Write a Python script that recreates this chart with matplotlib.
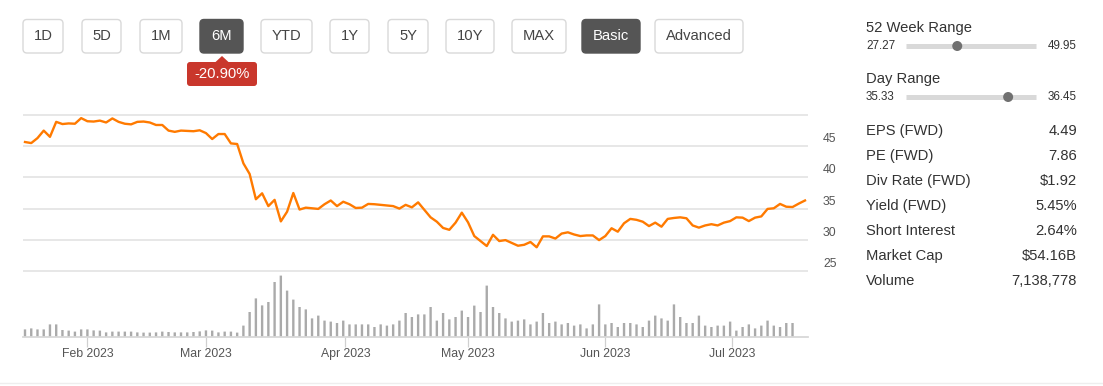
import numpy as np
import pandas as pd
import matplotlib
matplotlib.use("agg")
import matplotlib.pyplot as plt
from matplotlib.patches import FancyBboxPatch, Polygon, Circle
import matplotlib.transforms as mtrans

plt.rcParams["font.family"] = ["Liberation Sans", "DejaVu Sans"]

# trading sessions of the 6M window (ordinal x axis)
holidays = ["2023-02-20", "2023-04-07", "2023-05-29", "2023-06-19", "2023-07-04"]
dates = pd.bdate_range("2023-01-18", "2023-07-19")
dates = dates[~dates.isin(pd.to_datetime(holidays))]

price = [
    45.67, 45.5, 46.3, 47.5, 46.5, 48.9, 48.55, 48.65, 48.6, 49.5,
    49.0, 48.95, 49.1, 48.8, 49.45, 48.9, 48.6, 48.5, 48.9, 48.95,
    48.8, 48.4, 48.4, 47.5, 47.3, 47.5, 47.45, 47.4, 47.55, 47.1,
    46.15, 46.95, 46.95, 45.45, 45.35, 42.25, 40.55, 36.5, 37.45, 35.4,
    36.4, 32.95, 34.5, 37.5, 34.85, 35.15, 35.05, 34.95, 35.7, 36.3,
    35.4, 36.1, 35.7, 35.1, 35.15, 35.75, 35.7, 35.6, 35.5, 35.4,
    35.0, 35.6, 35.2, 36.0, 34.8, 33.6, 32.9, 31.9, 31.6, 32.75,
    34.35, 32.8, 30.6, 29.8, 29.0, 30.8, 29.8, 29.95, 29.5, 29.05,
    29.2, 29.65, 28.8, 30.55, 30.55, 30.2, 31.0, 31.2, 30.85, 30.6,
    30.7, 30.7, 29.95, 30.6, 31.85, 31.3, 32.65, 33.35, 33.2, 32.9,
    32.2, 32.75, 32.1, 33.35, 33.5, 33.6, 33.45, 32.3, 31.95, 32.3,
    32.5, 32.3, 32.75, 33.0, 33.6, 33.55, 33.0, 33.55, 33.75, 34.95,
    35.05, 35.75, 35.3, 35.25, 35.8, 36.3,
]

# volume in millions of shares
volume = [
    3.8, 4.3, 3.8, 3.8, 6.3, 6.3, 3.5, 3.2, 2.7, 3.8,
    3.8, 3.3, 3.2, 2.3, 2.7, 2.7, 2.7, 2.7, 2.3, 2.2,
    2.2, 2.3, 2.7, 2.5, 2.3, 2.3, 2.3, 2.5, 2.8, 3.3,
    3.2, 2.3, 2.7, 2.7, 2.2, 5.7, 12.5, 19.3, 15.8, 17.5,
    27.5, 30.7, 23.2, 18.7, 15.0, 13.8, 9.3, 10.7, 8.2, 7.7,
    7.0, 8.2, 6.3, 6.3, 6.3, 6.3, 5.0, 6.3, 5.7, 6.3,
    8.2, 12.0, 10.0, 11.3, 11.3, 15.0, 8.2, 12.0, 8.8, 10.0,
    13.2, 10.0, 15.7, 12.5, 25.7, 15.0, 12.0, 9.3, 7.7, 8.2,
    8.8, 6.3, 7.7, 12.0, 7.0, 7.7, 6.3, 7.0, 5.7, 6.3,
    4.3, 6.3, 16.3, 6.3, 7.0, 5.0, 7.0, 7.0, 6.3, 5.0,
    8.2, 10.7, 9.3, 8.2, 16.3, 10.0, 7.0, 7.0, 10.7, 5.7,
    5.0, 5.7, 5.7, 7.7, 3.2, 5.0, 6.3, 4.3, 5.7, 8.2,
    5.7, 5.0, 7.0, 7.0,
]

price_ticks = [25, 30, 35, 40, 45, 50]
periods = ["1D", "5D", "1M", "6M", "YTD", "1Y", "5Y", "10Y", "MAX"]
views = ["Basic", "Advanced"]
selected = ["6M", "Basic"]
change_label = "-20.90%"

week52 = (27.27, 49.95)
day_range = (35.33, 36.45)
last_price = 36.21
stat_names = ["EPS (FWD)", "PE (FWD)", "Div Rate (FWD)", "Yield (FWD)",
              "Short Interest", "Market Cap", "Volume"]
stat_values = ["4.49", "7.86", "$1.92", "5.45%", "2.64%", "$54.16B", "7,138,778"]

W, H = 1103, 386
fig = plt.figure(figsize=(W / 100, H / 100), dpi=100)
fig.patch.set_facecolor("white")


def px_axes(x0, y0, x1, y1):
    return fig.add_axes([x0 / W, 1 - y1 / H, (x1 - x0) / W, (y1 - y0) / H])


idx = np.arange(len(dates))
step = 6.24  # px per session
xlim = (-2 / step, len(price) - 1 + 3 / step)

# price panel
ax = px_axes(23, 113, 808, 273)
ax.plot(idx[:len(price)], price, color="#ff7a00", lw=1.7, solid_joinstyle="round", zorder=3)
ax.set_xlim(*xlim)
ax.set_ylim(25 - 2 / step, 50 + 2 / step)
ax.set_yticks(price_ticks)
ax.set_yticklabels([])
ax.grid(axis="y", color="#e0e0e0", lw=1.1)
ax.tick_params(length=0, labelbottom=False, labelleft=False)
ax.set_xticks([])
for s in ax.spines.values():
    s.set_visible(False)
lab_tr = mtrans.offset_copy(ax.get_yaxis_transform(), fig=fig, x=15, y=7, units="dots")
for v in price_ticks[:-1]:
    ax.text(1.0, v, str(v), transform=lab_tr, ha="left", va="center",
            fontsize=8.8, color="#555555")

# volume panel
axv = px_axes(23, 271, 808, 337)
axv.bar(idx[:len(volume)], volume, width=0.38, color="#aaaaaa", lw=0, snap=False, zorder=2)
axv.set_xlim(*xlim)
axv.set_ylim(0, 33)
axv.set_yticks([])
for k in ["top", "left", "right"]:
    axv.spines[k].set_visible(False)
axv.spines["bottom"].set_color("#d8d8d8")
axv.spines["bottom"].set_linewidth(1.3)
months = pd.date_range("2023-02-01", "2023-07-01", freq="MS")
mpos = np.interp(months.asi8, dates.asi8, idx)
axv.set_xticks(mpos)
axv.set_xticklabels(months.strftime("%b %Y"))
axv.tick_params(axis="x", length=7, width=0.9, color="#d0d0d0", pad=1,
                labelsize=8.8, labelcolor="#555555")
axv.patch.set_alpha(0)

# overlay in pixel coordinates for buttons and side panel
ov = fig.add_axes([0, 0, 1, 1])
ov.set_xlim(0, W)
ov.set_ylim(H, 0)
ov.axis("off")

btn_edges = [(23, 63), (82, 121), (140, 182), (200, 243), (261, 312), (330, 369),
             (388, 428), (446, 494), (512, 566), (582, 640), (655, 743)]
for (x0, x1), name in zip(btn_edges, periods + views):
    on = name in selected
    ov.add_patch(FancyBboxPatch((x0, 19.5), x1 - x0, 33.5,
                                boxstyle="round,pad=0,rounding_size=4",
                                fc="#555555" if on else "white",
                                ec="#555555" if on else "#d9d9d9", lw=1.0))
    ov.text((x0 + x1) / 2, 36.5, name, ha="center", va="center", fontsize=10.6,
            color="white" if on else "#444444")

# change tooltip under the selected period
tx0, tx1 = 187, 257
tc = (tx0 + tx1) / 2
ov.add_patch(FancyBboxPatch((tx0, 62), tx1 - tx0, 24,
                            boxstyle="round,pad=0,rounding_size=3", fc="#c9372c", ec="none"))
ov.add_patch(Polygon([(tc - 7, 62.5), (tc, 56), (tc + 7, 62.5)], closed=True,
                     fc="#c9372c", ec="none"))
ov.text(tc, 74, change_label, ha="center", va="center", fontsize=10.6, color="white")

# side panel: ranges
lx, rx = 866, 1077
bar0, bar1 = 906, 1036
for (lo, hi), title, ty in [(week52, "52 Week Range", 28), (day_range, "Day Range", 79)]:
    ov.text(lx, ty, title, ha="left", va="center", fontsize=10.6, color="#333333")
    yb = ty + 18
    ov.text(lx, yb, f"{lo:.2f}", ha="left", va="center", fontsize=8.4, color="#333333")
    ov.text(rx, yb, f"{hi:.2f}", ha="right", va="center", fontsize=8.4, color="#333333")
    ov.plot([bar0, bar1], [yb, yb], color="#d9d9d9", lw=3.6, solid_capstyle="butt")
    kx = bar0 + (last_price - lo) / (hi - lo) * (bar1 - bar0)
    ov.add_patch(Circle((kx, yb), 5, fc="#707070", ec="none", zorder=5))

# side panel: key stats
for i, (n, v) in enumerate(zip(stat_names, stat_values)):
    y = 131 + 25 * i
    ov.text(lx, y, n, ha="left", va="center", fontsize=10.6, color="#333333")
    ov.text(rx, y, v, ha="right", va="center", fontsize=10.6, color="#333333")

ov.plot([0, W], [383, 383], color="#eeeeee", lw=1)

plt.savefig("out.png", dpi=100)
